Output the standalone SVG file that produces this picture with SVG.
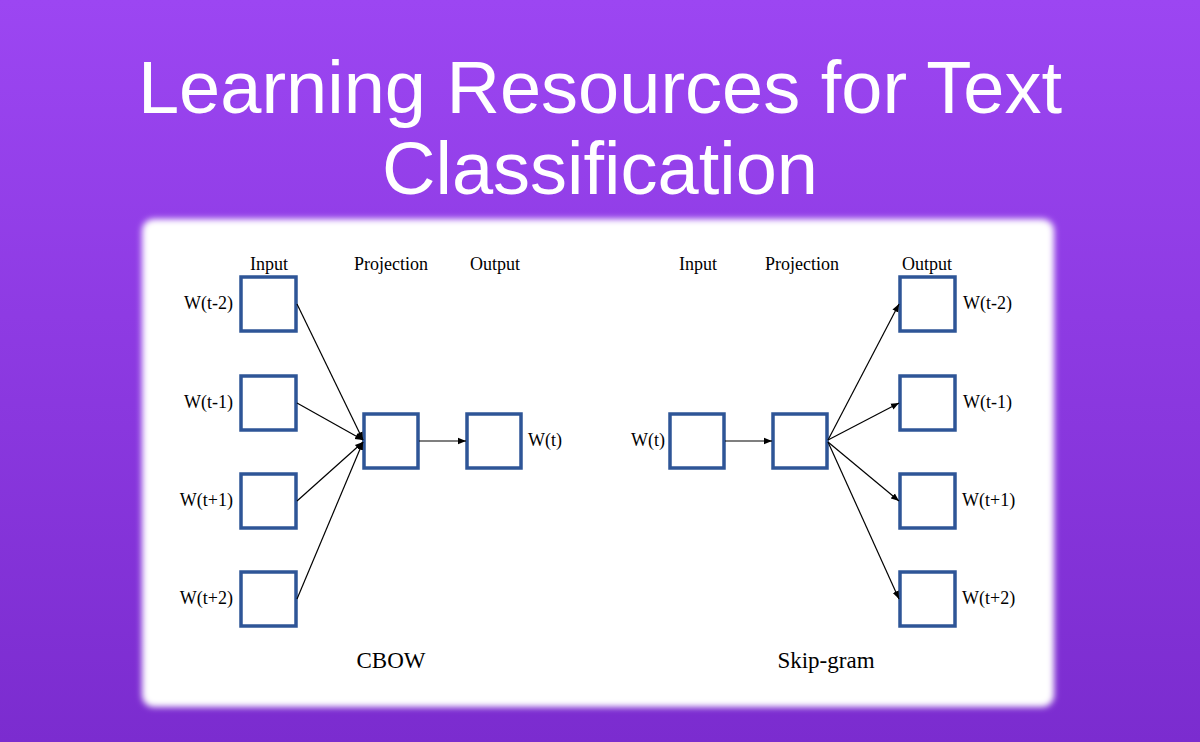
<svg xmlns="http://www.w3.org/2000/svg" width="1200" height="742" viewBox="0 0 1200 742">
<defs>
<linearGradient id="bg" x1="0" y1="0" x2="0" y2="1"><stop offset="0" stop-color="#9c46f2"/><stop offset="1" stop-color="#7b2ccf"/></linearGradient>
<filter id="blur" x="-5%" y="-5%" width="110%" height="110%"><feGaussianBlur stdDeviation="3"/></filter>
<marker id="ah" viewBox="0 0 10 10" refX="10" refY="5" markerWidth="8" markerHeight="8" orient="auto" markerUnits="userSpaceOnUse"><path d="M0,1 L10,5 L0,9 z" fill="#000"/></marker>
</defs>
<style>
.box{fill:#fff;stroke:#2e5597;stroke-width:3.5}
.t{font-family:"Liberation Serif",serif;font-size:18px;fill:#000}
.big{font-family:"Liberation Serif",serif;font-size:23px;fill:#000;text-anchor:middle}
.title{font-family:"Liberation Sans",Arial,sans-serif;font-size:74px;fill:#fff;text-anchor:middle}
.c line{stroke:#000;stroke-width:1.2;marker-end:url(#ah)}
</style>
<rect width="1200" height="742" fill="url(#bg)"/>
<text class="title" x="600" y="113">Learning Resources for Text</text>
<text class="title" x="600" y="194">Classification</text>
<rect x="142" y="219" width="912" height="488" rx="12" fill="#fff" filter="url(#blur)"/>
<g class="t" text-anchor="middle">
<text x="269" y="270">Input</text><text x="391" y="270">Projection</text><text x="495" y="270">Output</text>
<text x="698" y="270">Input</text><text x="802" y="270">Projection</text><text x="927" y="270">Output</text>
</g>
<g id="cbow">
<rect class="box" x="241" y="277" width="55" height="54"/><text class="t" x="233" y="309" text-anchor="end">W(t-2)</text>
<rect class="box" x="241" y="376" width="55" height="54"/><text class="t" x="233" y="408" text-anchor="end">W(t-1)</text>
<rect class="box" x="241" y="474" width="55" height="54"/><text class="t" x="233" y="506" text-anchor="end">W(t+1)</text>
<rect class="box" x="241" y="572" width="55" height="54"/><text class="t" x="233" y="604" text-anchor="end">W(t+2)</text>
<rect class="box" x="364" y="414" width="54" height="54"/>
<rect class="box" x="467" y="414" width="54" height="54"/><text class="t" x="528" y="446">W(t)</text>
<text class="big" x="391" y="668">CBOW</text>
</g>
<g id="skipgram">
<rect class="box" x="670" y="414" width="54" height="54"/><text class="t" x="665" y="446" text-anchor="end">W(t)</text>
<rect class="box" x="773" y="414" width="54" height="54"/>
<rect class="box" x="900" y="277" width="55" height="54"/><text class="t" x="963" y="309">W(t-2)</text>
<rect class="box" x="900" y="376" width="55" height="54"/><text class="t" x="963" y="408">W(t-1)</text>
<rect class="box" x="900" y="474" width="55" height="54"/><text class="t" x="962" y="506">W(t+1)</text>
<rect class="box" x="900" y="572" width="55" height="54"/><text class="t" x="962" y="604">W(t+2)</text>
<text class="big" x="826" y="668">Skip-gram</text>
</g>
<g class="c" id="connectors">
<line x1="297" y1="304" x2="363" y2="440"/>
<line x1="297" y1="403" x2="363" y2="440"/>
<line x1="297" y1="501" x2="363" y2="442"/>
<line x1="297" y1="599" x2="363" y2="442"/>
<line x1="419" y1="441" x2="466" y2="441"/>
<line x1="725" y1="441" x2="772" y2="441"/>
<line x1="828" y1="440" x2="899" y2="304"/>
<line x1="828" y1="440" x2="899" y2="403"/>
<line x1="828" y1="442" x2="899" y2="501"/>
<line x1="828" y1="442" x2="899" y2="599"/>
</g>
</svg>
